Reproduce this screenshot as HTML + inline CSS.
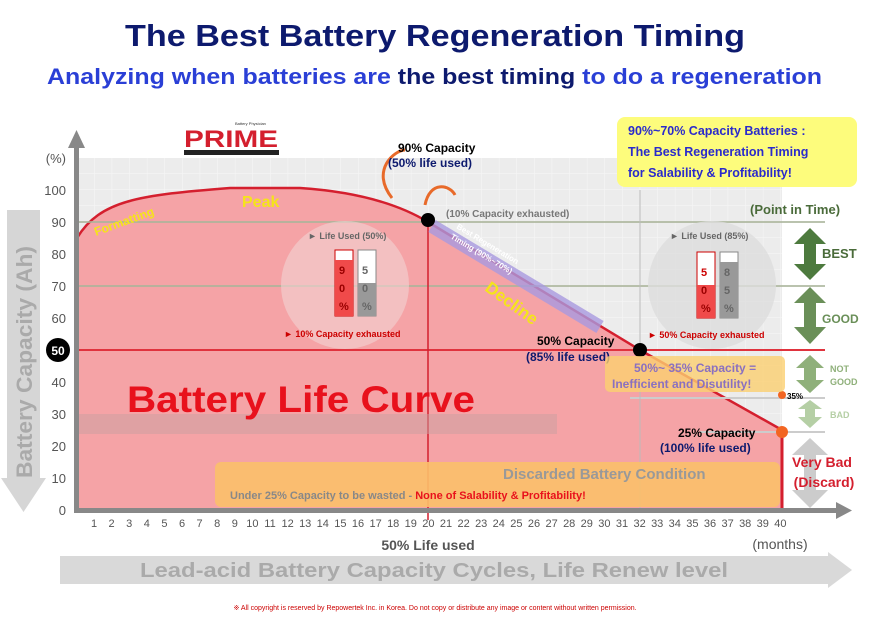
<!DOCTYPE html>
<html><head><meta charset="utf-8"><style>
body{margin:0;background:#fff;}
svg text{font-family:"Liberation Sans",sans-serif;}
</style></head><body>
<svg width="870" height="618" viewBox="0 0 870 618" xmlns="http://www.w3.org/2000/svg">
<defs>
<pattern id="g" width="17.6" height="16" patternUnits="userSpaceOnUse" x="77" y="190">
<path d="M17.6 0V16M0 16H17.6" stroke="#fff" stroke-width="1" fill="none" opacity="0.6"/>
</pattern>
</defs>
<text x="125" y="46" textLength="620" lengthAdjust="spacingAndGlyphs" font-size="31" font-weight="bold" fill="#0d1a6e">The Best Battery Regeneration Timing</text>
<text x="47" y="84" textLength="775" lengthAdjust="spacingAndGlyphs" font-size="22" font-weight="bold" fill="#2a3fd6">Analyzing when batteries are <tspan fill="#0d1a6e">the best timing</tspan> to do a regeneration</text>
<rect x="77" y="158" width="705" height="352" fill="#ececec"/>
<rect x="77" y="158" width="705" height="352" fill="url(#g)"/>
<path d="M77 238 C100 200,140 195,230 188 L300 188 C360 192,400 205,428 222 L640 350 L782 430 L782 510 L77 510Z" fill="#f5a3a6"/>
<path d="M77 238 C100 200,140 195,230 188 L300 188 C360 192,400 205,428 222 L640 350 L782 430" fill="none" stroke="#d41f2e" stroke-width="2.5"/>
<path d="M782 430 V510" stroke="#d41f2e" stroke-width="3"/>
<line x1="77" y1="222" x2="825" y2="222" stroke="#aab59a" stroke-width="2" opacity="0.8"/>
<line x1="77" y1="286" x2="825" y2="286" stroke="#aab59a" stroke-width="2" opacity="0.8"/>
<line x1="77" y1="350" x2="825" y2="350" stroke="#e0333e" stroke-width="2"/>
<line x1="630" y1="398" x2="825" y2="398" stroke="#ccc" stroke-width="2"/>
<line x1="700" y1="432" x2="825" y2="432" stroke="#ccc" stroke-width="2"/>
<line x1="428" y1="222" x2="428" y2="520" stroke="#d41f2e" stroke-width="1.5"/>
<line x1="640" y1="190" x2="640" y2="510" stroke="#bbb" stroke-width="1"/>
<rect x="77" y="414" width="480" height="20" fill="#c9a0a0" opacity="0.5"/>
<rect x="74" y="142" width="5" height="370" fill="#888"/>
<path d="M68 148 L76.5 130 L85 148Z" fill="#888"/>
<rect x="74" y="508" width="765" height="5" fill="#888"/>
<path d="M836 502 L852 510.5 L836 519Z" fill="#888"/>
<g font-size="13" fill="#555" text-anchor="end">
<text x="66" y="515">0</text><text x="66" y="483">10</text><text x="66" y="451">20</text><text x="66" y="419">30</text><text x="66" y="387">40</text><text x="66" y="291">70</text><text x="66" y="259">80</text><text x="66" y="227">90</text><text x="66" y="195">100</text><text x="66" y="323">60</text><text x="66" y="163">(%)</text>
</g>
<circle cx="58" cy="350" r="12" fill="#000"/><text x="58" y="355" font-size="12" font-weight="bold" fill="#fff" text-anchor="middle">50</text>
<rect x="7" y="210" width="33" height="268" fill="#d6d6d6"/>
<path d="M1 478 L46 478 L23.5 512Z" fill="#d6d6d6"/>
<text transform="translate(32,478) rotate(-90)" textLength="232" lengthAdjust="spacingAndGlyphs" font-size="22" font-weight="bold" fill="#aaa">Battery Capacity (Ah)</text>
<g font-size="11" fill="#555" text-anchor="middle">
<text x="94" y="527">1</text><text x="111.6" y="527">2</text><text x="129.2" y="527">3</text><text x="146.8" y="527">4</text><text x="164.4" y="527">5</text><text x="182" y="527">6</text><text x="199.6" y="527">7</text><text x="217.2" y="527">8</text><text x="234.8" y="527">9</text><text x="252.4" y="527">10</text><text x="270" y="527">11</text><text x="287.6" y="527">12</text><text x="305.2" y="527">13</text><text x="322.8" y="527">14</text><text x="340.4" y="527">15</text><text x="358" y="527">16</text><text x="375.6" y="527">17</text><text x="393.2" y="527">18</text><text x="410.8" y="527">19</text><text x="428.4" y="527">20</text><text x="446" y="527">21</text><text x="463.6" y="527">22</text><text x="481.2" y="527">23</text><text x="498.8" y="527">24</text><text x="516.4" y="527">25</text><text x="534" y="527">26</text><text x="551.6" y="527">27</text><text x="569.2" y="527">28</text><text x="586.8" y="527">29</text><text x="604.4" y="527">30</text><text x="622" y="527">31</text><text x="639.6" y="527">32</text><text x="657.2" y="527">33</text><text x="674.8" y="527">34</text><text x="692.4" y="527">35</text><text x="710" y="527">36</text><text x="727.6" y="527">37</text><text x="745.2" y="527">38</text><text x="762.8" y="527">39</text><text x="780.4" y="527">40</text>
</g>
<text x="428" y="550" font-size="14" font-weight="bold" fill="#555" text-anchor="middle">50% Life used</text>
<text x="780" y="549" font-size="14" fill="#555" text-anchor="middle">(months)</text>
<rect x="60" y="556" width="770" height="28" fill="#d9d9d9"/>
<path d="M828 552 L852 570 L828 588Z" fill="#d9d9d9"/>
<text x="140" y="577" textLength="588" lengthAdjust="spacingAndGlyphs" font-size="20" font-weight="bold" fill="#aaa">Lead-acid Battery Capacity Cycles, Life Renew level</text>
<text x="435" y="610" text-anchor="middle" font-size="7" fill="#c00">※ All copyright is reserved by Repowertek Inc. in Korea. Do not copy or distribute any image or content without written permission.</text>
<text x="184" y="147" textLength="94" lengthAdjust="spacingAndGlyphs" font-size="24" font-weight="bold" fill="#d41f2e">PRIME</text>
<rect x="184" y="150" width="95" height="5" fill="#222"/>
<text x="235" y="125" font-size="4" fill="#333">Battery Physician</text>
<text x="127" y="412" textLength="348" lengthAdjust="spacingAndGlyphs" font-size="37" font-weight="bold" fill="#e8111c">Battery Life Curve</text>
<text transform="translate(96,236) rotate(-20)" font-size="12" font-weight="bold" fill="#f5e41a">Formatting</text>
<text x="242" y="207" font-size="16" font-weight="bold" fill="#f5e41a">Peak</text>
<text transform="translate(484,290) rotate(36)" font-size="17" font-weight="bold" fill="#f5e41a">Decline</text>
<path d="M432 226 L600 327" stroke="#a99ae0" stroke-width="14" opacity="0.8"/>
<text transform="translate(456,228) rotate(31)" font-size="8" font-weight="bold" fill="#fff">Best Regeneration</text>
<text transform="translate(450,238) rotate(31)" font-size="8" font-weight="bold" fill="#fff">Timing (90%~70%)</text>
<circle cx="428" cy="220" r="7" fill="#000"/>
<circle cx="640" cy="350" r="7" fill="#000"/>
<circle cx="782" cy="432" r="6" fill="#f26522"/>
<circle cx="782" cy="395" r="4" fill="#f26522"/>
<text x="787" y="399" font-size="8" font-weight="bold">35%</text>
<path d="M392 198 C370 170,395 150,405 150" stroke="#e86a2a" stroke-width="3" fill="none"/>
<path d="M425 205 C430 180,450 185,455 195" stroke="#e86a2a" stroke-width="3" fill="none"/>
<text x="398" y="152" font-size="12" font-weight="bold">90% Capacity</text>
<text x="388" y="167" font-size="12" font-weight="bold" fill="#0d1a6e">(50% life used)</text>
<text x="446" y="217" font-size="10" font-weight="bold" fill="#777">(10% Capacity exhausted)</text>
<text x="537" y="345" font-size="12" font-weight="bold">50% Capacity</text>
<text x="526" y="361" font-size="12" font-weight="bold" fill="#0d1a6e">(85% life used)</text>
<rect x="605" y="356" width="180" height="36" rx="5" fill="#fbd070" opacity="0.8"/>
<text x="634" y="372" font-size="12" font-weight="bold" fill="#8a70c0">50%~ 35% Capacity =</text>
<text x="612" y="388" font-size="12" font-weight="bold" fill="#8a70c0">Inefficient and Disutility!</text>
<text x="678" y="437" font-size="12" font-weight="bold">25% Capacity</text>
<text x="660" y="452" font-size="12" font-weight="bold" fill="#0d1a6e">(100% life used)</text>
<rect x="215" y="462" width="565" height="45" rx="6" fill="#fbc06a" opacity="0.9"/>
<text x="503" y="479" font-size="15" font-weight="bold" fill="#999">Discarded Battery Condition</text>
<text x="230" y="499" font-size="11" font-weight="bold" fill="#888">Under 25% Capacity to be wasted - <tspan fill="#e8111c">None of Salability &amp; Profitability!</tspan></text>
<circle cx="345" cy="285" r="64" fill="#f2d4d4" opacity="0.6"/>
<circle cx="712" cy="285" r="64" fill="#ddd" opacity="0.8"/>
<text x="308" y="239" font-size="9" font-weight="bold" fill="#666">► Life Used (50%)</text>
<rect x="335" y="250" width="18" height="66" fill="#fff" stroke="#c00"/><rect x="335" y="260" width="18" height="56" fill="#f04a4a"/>
<rect x="358" y="250" width="18" height="66" fill="#fff" stroke="#888"/><rect x="358" y="283" width="18" height="33" fill="#999"/>
<text x="339" y="274" font-size="11" font-weight="bold" fill="#900">9</text><text x="339" y="292" font-size="11" font-weight="bold" fill="#900">0</text><text x="339" y="310" font-size="11" font-weight="bold" fill="#900">%</text>
<text x="362" y="274" font-size="11" font-weight="bold" fill="#666">5</text><text x="362" y="292" font-size="11" font-weight="bold" fill="#666">0</text><text x="362" y="310" font-size="11" font-weight="bold" fill="#666">%</text>
<text x="284" y="337" font-size="9" font-weight="bold" fill="#c00">► 10% Capacity exhausted</text>
<text x="670" y="239" font-size="9" font-weight="bold" fill="#666">► Life Used (85%)</text>
<rect x="697" y="252" width="18" height="66" fill="#fff" stroke="#c00"/><rect x="697" y="285" width="18" height="33" fill="#f04a4a"/>
<rect x="720" y="252" width="18" height="66" fill="#fff" stroke="#888"/><rect x="720" y="262" width="18" height="56" fill="#999"/>
<text x="701" y="276" font-size="11" font-weight="bold" fill="#c00">5</text><text x="701" y="294" font-size="11" font-weight="bold" fill="#900">0</text><text x="701" y="312" font-size="11" font-weight="bold" fill="#900">%</text>
<text x="724" y="276" font-size="11" font-weight="bold" fill="#666">8</text><text x="724" y="294" font-size="11" font-weight="bold" fill="#666">5</text><text x="724" y="312" font-size="11" font-weight="bold" fill="#666">%</text>
<text x="648" y="338" font-size="9" font-weight="bold" fill="#c00">► 50% Capacity exhausted</text>
<rect x="617" y="117" width="240" height="70" rx="8" fill="#fdfc7c"/>
<text x="628" y="135" font-size="12.5" font-weight="bold" fill="#2a2acc">90%~70% Capacity Batteries :</text>
<text x="628" y="156" font-size="12.5" font-weight="bold" fill="#2a2acc">The Best Regeneration Timing</text>
<text x="628" y="177" font-size="12.5" font-weight="bold" fill="#2a2acc">for Salability &amp; Profitability!</text>
<text x="750" y="214" font-size="13" font-weight="bold" fill="#4a6b3a">(Point in Time)</text>
<path d="M810 228 L826 244 L816 244 L816 264 L826 264 L810 280 L794 264 L804 264 L804 244 L794 244Z" fill="#4d7a3e"/>
<text x="822" y="258" font-size="13" font-weight="bold" fill="#4a6b3a">BEST</text>
<path d="M810 287 L826 303 L816 303 L816 327 L826 327 L810 344 L794 327 L804 327 L804 303 L794 303Z" fill="#6a8f58"/>
<text x="822" y="323" font-size="12" font-weight="bold" fill="#6a8f58">GOOD</text>
<path d="M810 355 L824 368 L816 368 L816 380 L824 380 L810 393 L796 380 L804 380 L804 368 L796 368Z" fill="#8fb07a"/>
<text x="830" y="372" font-size="9" font-weight="bold" fill="#8fb07a">NOT</text><text x="830" y="385" font-size="9" font-weight="bold" fill="#8fb07a">GOOD</text>
<path d="M810 400 L822 409 L815 409 L815 417 L822 417 L810 428 L798 417 L805 417 L805 409 L798 409Z" fill="#b5cfa5"/>
<text x="830" y="418" font-size="9" font-weight="bold" fill="#b5cfa5">BAD</text>
<path d="M810 438 L828 455 L816 455 L816 490 L828 490 L810 508 L792 490 L804 490 L804 455 L792 455Z" fill="#ccc"/>
<text x="822" y="467" font-size="14" font-weight="bold" fill="#d41f2e" text-anchor="middle">Very Bad</text>
<text x="824" y="487" font-size="14" font-weight="bold" fill="#d41f2e" text-anchor="middle">(Discard)</text>
</svg>
</body></html>
